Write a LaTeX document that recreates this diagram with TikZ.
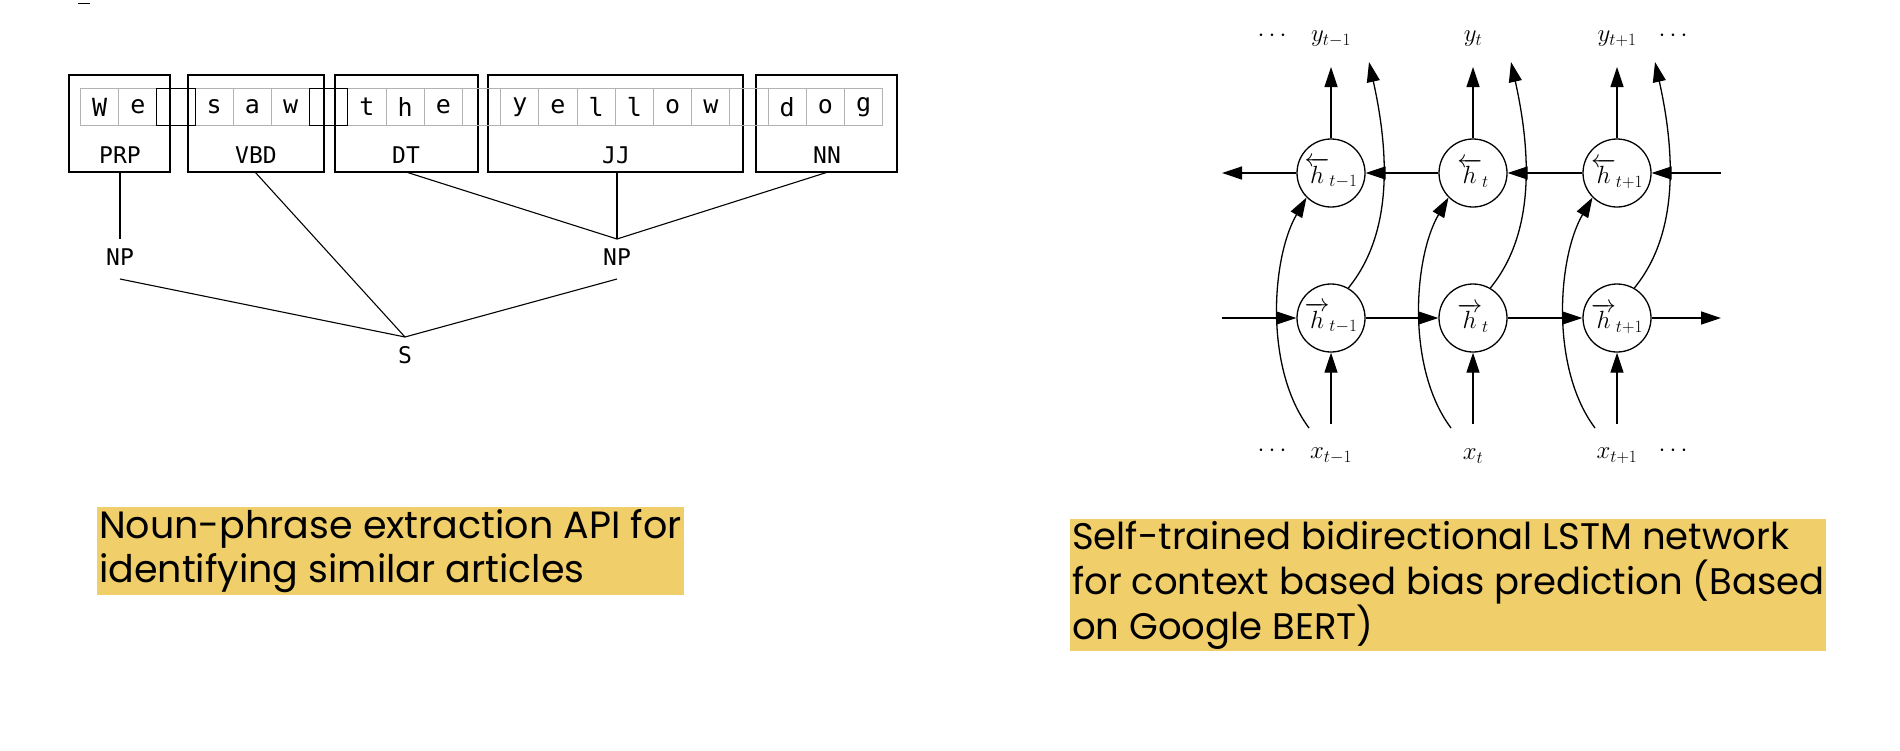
\documentclass[tikz,border=0pt]{standalone}
\usepackage{fontspec}
\setmainfont{Poppins}
\newfontfamily\monof{DejaVu Sans Mono}
\usetikzlibrary{arrows.meta}
\definecolor{hl}{HTML}{F0CE6A}
\begin{document}
\begin{tikzpicture}[x=1pt,y=-1pt,
  tagbox/.style={draw,line width=1.2pt},
  cell/.style={draw=gray!60,line width=1pt,minimum width=38.2pt,minimum height=37pt,inner sep=0pt,anchor=north west},
  spc/.style={draw=black,line width=1pt,minimum width=38.2pt,minimum height=37pt,inner sep=0pt,anchor=north west},
  lt/.style={font=\monof\fontsize{25}{25}\selectfont},
  tag/.style={font=\monof\fontsize{23}{23}\selectfont,inner sep=1pt},
  tl/.style={line width=1.1pt},
  cn/.style={draw,circle,line width=1.3pt,minimum size=68pt,inner sep=0pt,font=\fontsize{26}{26}\selectfont},
  mt/.style={font=\fontsize{27}{27}\selectfont},
  ar/.style={line width=1.3pt,-{Triangle[length=20pt,width=13pt]}},
  captext/.style={fill=hl,inner sep=2pt,anchor=north west,align=left}]
\useasboundingbox (0,0) rectangle (1900,750);
\draw[line width=1pt] (78,3) -- (90,3);
% tag boxes
\draw[tagbox] (69,75) rectangle (170,172);
\draw[tagbox] (188,75) rectangle (324,172);
\draw[tagbox] (335,75) rectangle (478,172);
\draw[tagbox] (488,75) rectangle (743,172);
\draw[tagbox] (756,75) rectangle (897,172);
% letter cells
\foreach \c [count=\i from 0] in {W,e,{},s,a,w,{},t,h,e,{},y,e,l,l,o,w,{},d,o,g}{
  \node[cell,lt] at ({80+38.2*\i},88) {\c};
}
\node[spc] at ({80+38.2*2},88) {};
\node[spc] at ({80+38.2*6},88) {};
% tags
\node[tag] (prp) at (120,155) {PRP};
\node[tag] (vbd) at (256,155) {VBD};
\node[tag] (dt) at (406,155) {DT};
\node[tag] (jj) at (616,155) {JJ};
\node[tag] (nn) at (827,155) {NN};
\coordinate (prpb) at (120,172);
\coordinate (vbdb) at (255,172);
\coordinate (dtb) at (406,172);
\coordinate (jjb) at (617,172);
\coordinate (nnb) at (828,172);
\node[tag] (np1) at (120,257) {NP};
\node[tag] (np2) at (617,257) {NP};
\node[tag] (s) at (405,355) {S};
\coordinate (np1t) at (120,239);
\coordinate (np2t) at (617,239);
\coordinate (np1b) at (120,279);
\coordinate (np2b) at (617,279);
\coordinate (st) at (405,337);
\draw[tl] (prpb) -- (np1t);
\draw[tl] (dtb) -- (np2t);
\draw[tl] (jjb) -- (np2t);
\draw[tl] (nnb) -- (np2t);
\draw[tl] (np1b) -- (st);
\draw[tl] (vbdb) -- (st);
\draw[tl] (np2b) -- (st);
% captions
\node[captext,font=\fontsize{38}{44}\selectfont] (c1) at (97,507) {Noun-phrase extraction API for\\identifying similar articles};
\node[captext,font=\fontsize{37}{45}\selectfont] (c2) at (1070,519) {Self-trained bidirectional LSTM network\\for context based bias prediction (Based\\on Google BERT)};
% LSTM
\foreach \n/\x/\s in {a/1331/{t-1},b/1473/{t},c/1617/{t+1}}{
  \node[cn] (u\n) at (\x,173) {$\overleftarrow{h}_{\s}$};
  \node[cn] (d\n) at (\x,318) {$\overrightarrow{h}_{\s}$};
  \node[mt] (y\n) at (\x,39) {$y_{\s}$};
  \node[mt] (x\n) at (\x,456) {$x_{\s}$};
  \coordinate (yt\n) at (\x,67);
  \coordinate (xb\n) at (\x,424);
  \coordinate (ce\n) at (\x+38,62);
  \coordinate (cs\n) at (\x-22,428);
  \draw[ar] (u\n) -- (yt\n);
  \draw[ar] (xb\n) -- (d\n);
  \draw[ar] (d\n.60) .. controls ++(45,-55) and ++(20,90) .. (ce\n);
  \draw[ar] (cs\n) .. controls ++(-45,-60) and ++(-35,60) .. (u\n.225);
}
\node[mt] (dy1) at (1272,36) {$\cdots$};
\node[mt] (dy2) at (1673,36) {$\cdots$};
\node[mt] (dx1) at (1272,451) {$\cdots$};
\node[mt] (dx2) at (1673,451) {$\cdots$};
\coordinate (lin) at (1222,318);
\coordinate (rout) at (1721,318);
\coordinate (lout) at (1222,173);
\coordinate (rin) at (1721,173);
\draw[ar] (lin) -- (da);
\draw[ar] (da) -- (db);
\draw[ar] (db) -- (dc);
\draw[ar] (dc) -- (rout);
\draw[ar] (rin) -- (uc);
\draw[ar] (uc) -- (ub);
\draw[ar] (ub) -- (ua);
\draw[ar] (ua) -- (lout);
\end{tikzpicture}
\end{document}
